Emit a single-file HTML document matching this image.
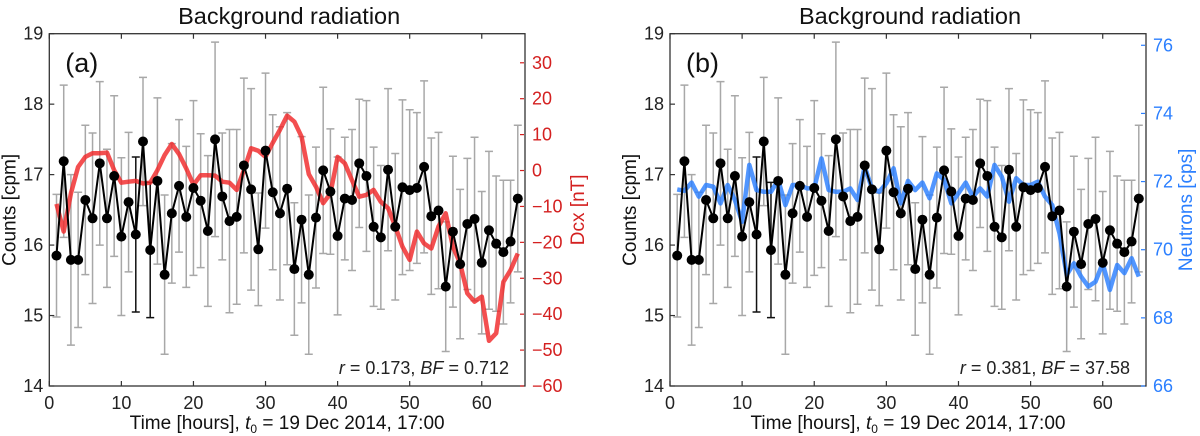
<!DOCTYPE html>
<html><head><meta charset="utf-8">
<style>
html,body{margin:0;padding:0;background:#fff;}
svg{display:block;font-family:"Liberation Sans",sans-serif;}
</style></head>
<body>
<svg id="chart" width="1200" height="436" viewBox="0 0 1200 436" xmlns="http://www.w3.org/2000/svg"></svg>
<script>
const hours = [];
for (let i = 1; i <= 65; i++) hours.push(i);
const counts = [15.85,17.19,15.79,15.79,16.64,16.38,17.16,16.38,16.98,16.12,16.61,16.15,17.47,15.93,16.91,15.58,16.45,16.84,16.40,16.81,16.63,16.20,17.50,16.69,16.34,16.40,17.13,16.79,15.94,17.34,16.75,16.45,16.80,15.66,16.36,15.58,16.39,17.06,16.76,16.13,16.66,16.64,17.16,16.98,16.26,16.11,17.07,16.26,16.82,16.78,16.81,17.11,16.41,16.49,15.41,16.19,15.73,16.30,16.37,15.75,16.21,16.02,15.90,16.05,16.66];
const countErrors = [0.87,1.08,1.21,0.96,1.06,1.21,1.16,0.98,1.14,1.12,0.99,1.10,0.91,0.96,1.18,1.13,0.99,0.94,1.00,1.24,0.95,1.07,1.38,0.90,1.30,1.24,1.24,1.43,0.80,1.10,1.10,1.23,1.08,0.94,1.18,1.13,1.00,1.18,0.89,1.12,0.87,1.00,0.91,1.07,1.13,1.02,1.15,1.04,1.24,1.14,1.07,1.22,1.11,1.11,0.92,1.07,1.06,0.93,1.16,1.01,1.12,0.96,1.02,0.87,1.04];
const dcx = [-9.3,-17.0,-6.4,1.0,3.8,4.8,4.8,5.0,0.1,-3.4,-3.1,-2.9,-3.6,-3.4,0.1,4.3,7.4,4.6,0.6,-4.0,-1.3,-1.3,-1.4,-3.1,-3.4,-5.4,0.1,6.2,5.5,3.8,7.7,11.3,15.3,13.6,9.4,-1.0,-4.5,-9.1,-6.4,3.8,2.0,-2.7,-7.3,-6.8,-5.4,-8.7,-10.5,-15.6,-21.2,-24.9,-17.0,-20.3,-21.7,-15.6,-11.9,-21.2,-25.8,-34.2,-36.5,-35.1,-47.4,-45.3,-31.0,-27.7,-23.1];
const neutrons = [71.77,71.73,71.97,71.56,71.90,71.85,71.36,71.90,71.46,70.82,72.49,71.75,71.70,71.70,72.05,71.31,71.90,71.90,71.80,71.80,72.68,71.75,71.70,71.70,71.80,71.46,72.44,71.80,71.70,71.95,72.39,71.36,72.02,71.75,71.97,71.51,72.24,72.05,71.36,71.66,71.97,71.56,71.80,71.56,72.49,72.14,71.41,72.10,71.90,71.90,72.00,71.56,71.31,70.48,69.26,69.60,69.21,68.92,69.06,69.60,68.82,69.55,69.31,69.75,69.21];
const xTicks = [0,10,20,30,40,50,60];
const yTicks = [14,15,16,17,18,19];
const dcxTicks = [-60,-50,-40,-30,-20,-10,0,10,20,30];
const neutronTicks = [66,68,70,72,74,76];
const blackErrIdx = [11,13];

const NS = "http://www.w3.org/2000/svg";
const svg = document.getElementById('chart');
function mk(tag, attrs, parent, text) {
  const e = document.createElementNS(NS, tag);
  for (const k in attrs) e.setAttribute(k, attrs[k]);
  if (text !== undefined) e.textContent = text;
  (parent || svg).appendChild(e);
  return e;
}

function panel(cfg) {
  const g = mk('g', {});
  
  
  const L = cfg.left, R = cfg.right, T = 33.7, B = 386;
  const xs = v => L + (v - 0) / 66 * (R - L);
  const ys = v => B - (v - 14) / 5 * (B - T);
  const y2 = v => B - (v - cfg.y2min) / (cfg.y2max - cfg.y2min) * (B - T);

  const t = mk('text', {x: (L + R) / 2 + 2, y: 24, 'text-anchor': 'middle', 'font-size': 23.5, fill: '#111'}, g, 'Background radiation');
  
  

  const eg = mk('g', {}, g);
  
  
  hours.forEach((h, i) => {
    const col = blackErrIdx.includes(i) ? '#111' : '#a8a8a8';
    const x = xs(h), y1 = ys(counts[i] + countErrors[i]), y0 = ys(counts[i] - countErrors[i]);
    const p = mk('path', {d: `M${x},${y1}V${y0}M${x-4},${y1}H${x+4}M${x-4},${y0}H${x+4}`, stroke: col, 'stroke-width': 1.5, fill: 'none'}, eg);
    
    
  });

  const sd = cfg.series.map((v, i) => (i ? 'L' : 'M') + xs(hours[i]).toFixed(1) + ',' + y2(v).toFixed(1)).join('');
  const sl = mk('path', {d: sd, stroke: cfg.color, 'stroke-width': 4.5, fill: 'none', 'stroke-opacity': 0.82, 'stroke-linejoin': 'round'}, g);
  
  

  const cd = counts.map((v, i) => (i ? 'L' : 'M') + xs(hours[i]).toFixed(1) + ',' + ys(v).toFixed(1)).join('');
  const cl = mk('path', {d: cd, stroke: '#000', 'stroke-width': 2, fill: 'none'}, g);
  
  
  counts.forEach((v, i) => {
    const c = mk('circle', {cx: xs(hours[i]), cy: ys(v), r: 5, fill: '#000'}, g);
    
    
  });

  const fr = mk('rect', {x: L, y: T, width: R - L, height: B - T, fill: 'none', stroke: '#333', 'stroke-width': 1.3}, g);
  
  

  xTicks.forEach(v => {
    const x = xs(v);
    mk('path', {d: `M${x},${B}V${B-5}M${x},${T}V${T+5}`, stroke: '#333', 'stroke-width': 1.2}, g);
    const tl = mk('text', {x: x, y: 409, 'text-anchor': 'middle', 'font-size': 18, fill: '#222'}, g, v);
    
    
  });
  yTicks.forEach(v => {
    const y = ys(v);
    mk('path', {d: `M${L},${y}H${L+5}`, stroke: '#333', 'stroke-width': 1.2}, g);
    const tl = mk('text', {x: L - 6, y: y + 6, 'text-anchor': 'end', 'font-size': 18, fill: '#222'}, g, v);
    
    
  });
  cfg.ticks.forEach(v => {
    const y = y2(v);
    mk('path', {d: `M${R-5},${y}H${R-1}`, stroke: cfg.axisColor, 'stroke-width': 1.2}, g);
    const tl = mk('text', {x: R + 7, y: y + 6, 'text-anchor': 'start', 'font-size': 18, fill: cfg.axisColor}, g, cfg.tickFmt(v));
    
    
  });

  const yl = mk('text', {x: 0, y: 0, transform: `translate(${L-34},${(T+B)/2}) rotate(-90)`, 'text-anchor': 'middle', 'font-size': 19, fill: '#111'}, g, 'Counts [cpm]');
  
  
  const y2l = mk('text', {x: 0, y: 0, transform: `translate(${cfg.y2TitleX},${(T+B)/2}) rotate(-90)`, 'text-anchor': 'middle', 'font-size': 19, fill: cfg.axisColor}, g, cfg.y2Title);
  
  
  const xl = mk('text', {x: (L + R) / 2, y: 429, 'text-anchor': 'middle', 'font-size': 19, fill: '#111'}, g);
  
  
  xl.innerHTML = 'Time [hours], <tspan font-style="italic">t</tspan><tspan font-size="12" dy="4">0</tspan><tspan dy="-4"> = 19 Dec 2014, 17:00</tspan>';

  const pl = mk('text', {x: L + 16, y: 72, 'font-size': 27, fill: '#111'}, g, cfg.label);
  
  

  const an = mk('text', {x: R - 16, y: 374, 'text-anchor': 'end', 'font-size': 18, fill: '#222'}, g);
  
  
  an.innerHTML = `<tspan font-style="italic">r</tspan> = ${cfg.r}, <tspan font-style="italic">BF</tspan> = ${cfg.bf}`;
}

panel({name: 'panel-a', left: 49.3, right: 525, series: dcx, y2min: -60, y2max: 38.1, color: '#f0282a', axisColor: '#d42020',
  ticks: dcxTicks, tickFmt: v => v < 0 ? '\u2212' + (-v) : '' + v, y2Title: 'Dcx [nT]', y2TitleX: 584, label: '(a)', r: '0.173', bf: '0.712', seriesName: 'dcx-line'});
panel({name: 'panel-b', left: 670, right: 1146, series: neutrons, y2min: 66, y2max: 76.34, color: '#2b7fff', axisColor: '#2b7fff',
  ticks: neutronTicks, tickFmt: v => '' + v, y2Title: 'Neutrons [cps]', y2TitleX: 1192, label: '(b)', r: '0.381', bf: '37.58', seriesName: 'neutrons-line'});
</script>
</body></html>
